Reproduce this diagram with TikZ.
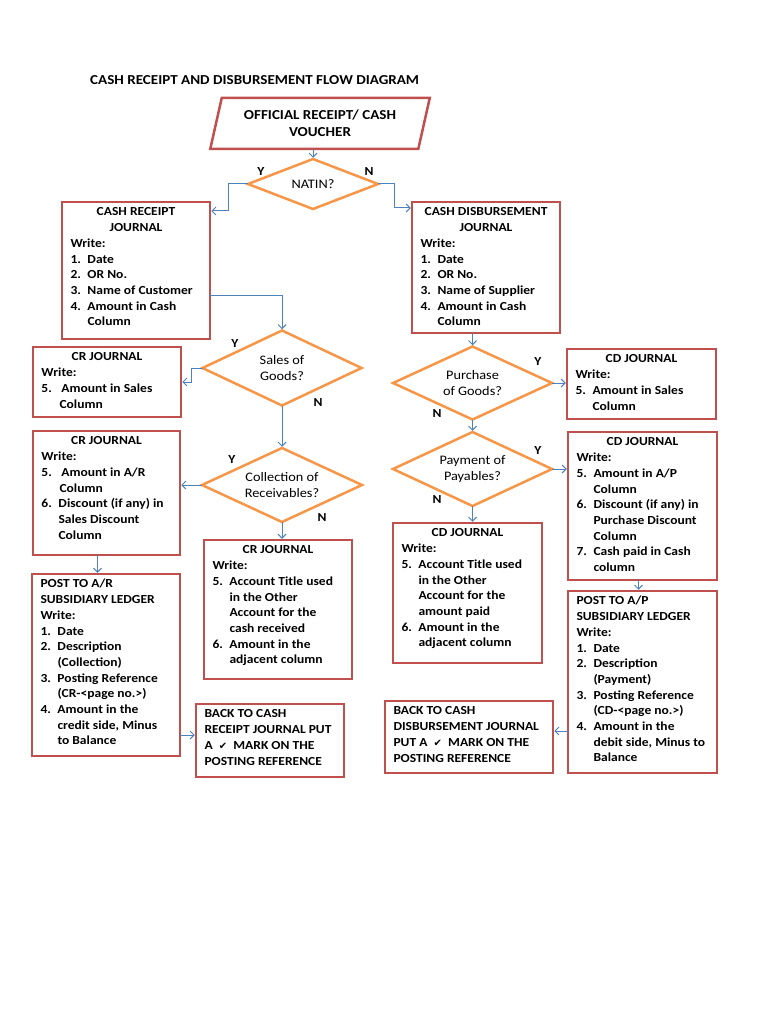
\documentclass[tikz,border=0pt]{standalone}
\usepackage{fontspec}
\setmainfont{Carlito}[FakeStretch=1.1]
\newfontfamily\chkfont{DejaVu Sans}
\usetikzlibrary{shapes.geometric, arrows.meta, positioning}
\definecolor{boxred}{HTML}{C0504D}
\definecolor{decorange}{HTML}{F79646}
\definecolor{lineblue}{HTML}{4F81BD}
\newcommand{\jfont}{\fontsize{12.3}{15.7}\selectfont\bfseries}
\newcommand{\dfont}{\fontsize{13}{16.5}\selectfont}
\newcommand{\tfont}{\fontsize{13.7}{17}\selectfont\bfseries}
\newcommand{\itm}[3][17pt]{\makebox[#1][l]{#2}#3}
\newcommand{\cnt}[1][17pt]{\hspace*{#1}}
\newcommand{\hd}[1]{\makebox[\linewidth][c]{#1}}
\newcommand{\chk}{\enspace{\chkfont\fontsize{10}{10}\selectfont ✔}\enspace}
\newcommand{\jtext}[3]{\parbox[t][#2][t]{#1}{\raggedright\strut#3}}
\tikzstyle{io} = [
  trapezium,
  trapezium left angle=72.6,
  trapezium right angle=107.4,
  trapezium stretches=true,
  minimum width=220pt,
  minimum height=51pt,
  inner sep=1pt,
  outer sep=0pt,
  align=center,
  draw=boxred,
  line width=2.5pt,
  fill=white,
  font=\tfont
]
\tikzstyle{journal} = [
  rectangle,
  anchor=north west,
  inner xsep=8.5pt,
  inner ysep=3pt,
  outer sep=0pt,
  draw=boxred,
  line width=2.5pt,
  fill=white,
  font=\jfont
]
\tikzstyle{decision} = [
  diamond,
  aspect=2,
  inner sep=0pt,
  outer sep=0pt,
  align=center,
  draw=decorange,
  line width=2.5pt,
  fill=white,
  font=\dfont
]
\tikzstyle{yn} = [inner sep=0pt, font=\jfont]
\tikzstyle{arrow} = [draw=lineblue, line width=1pt, shorten >=1.25pt, -{Straight Barb[length=4pt,width=8pt]}]

\begin{document}
\begin{tikzpicture}[x=1pt, y=-1pt]
    \fill [white] (0,0) rectangle (768,1024);
    \useasboundingbox (0,0) rectangle (768,1024);

    \node (title) [anchor=west, inner sep=0pt, font=\tfont] at (90,80) {CASH RECEIPT AND DISBURSEMENT FLOW DIAGRAM};
    \node (voucher) [io] at (320,123.5) {OFFICIAL RECEIPT/ CASH\\VOUCHER};
    \node (natin) [decision, minimum width=130pt, minimum height=50pt] at (313,184) {NATIN?};

    % cash receipt side
    \node (crj) [journal] at (62,202) {\jtext{131pt}{131pt}{\hd{CASH RECEIPT}\\ \hd{JOURNAL}\\ Write:\\ \itm{1.}{Date}\\ \itm{2.}{OR No.}\\ \itm{3.}{Name of Customer}\\ \itm{4.}{Amount in Cash}\\ \cnt Column}};
    \node (sales) [decision, minimum width=159pt, minimum height=75pt] at (282,368) {Sales of\\Goods?};
    \node (crja) [journal] at (33,347) {\jtext{131pt}{64pt}{\hd{CR JOURNAL}\\ Write:\\ \itm[20pt]{5.}{Amount in Sales}\\ \cnt[18pt]Column}};
    \node (coll) [decision, minimum width=160pt, minimum height=74pt] at (282,485) {Collection of\\Receivables?};
    \node (crjb) [journal] at (33,431) {\jtext{130pt}{118pt}{\hd{CR JOURNAL}\\ Write:\\ \itm[20pt]{5.}{Amount in A/R}\\ \cnt[18pt]Column\\ \itm{6.}{Discount (if any) in}\\ \cnt Sales Discount\\ \cnt Column}};
    \node (crjc) [journal] at (204,540) {\jtext{131pt}{133pt}{\hd{CR JOURNAL}\\ Write:\\ \itm{5.}{Account Title used}\\ \cnt in the Other\\ \cnt Account for the\\ \cnt cash received\\ \itm{6.}{Amount in the}\\ \cnt adjacent column}};
    \node (postar) [journal] at (32,574) {\jtext{131pt}{176pt}{POST TO A/R\\ SUBSIDIARY LEDGER\\ Write:\\ \itm{1.}{Date}\\ \itm{2.}{Description}\\ \cnt (Collection)\\ \itm{3.}{Posting Reference}\\ \cnt (CR-<page no.>)\\ \itm{4.}{Amount in the}\\ \cnt credit side, Minus\\ \cnt to Balance}};
    \node (backcr) [journal] at (196,704) {\jtext{131pt}{67pt}{BACK TO CASH\\ RECEIPT JOURNAL PUT\\ A\chk MARK ON THE\\ POSTING REFERENCE}};

    % cash disbursement side
    \node (cdj) [journal] at (412,202) {\jtext{131pt}{125pt}{\hd{CASH DISBURSEMENT}\\ \hd{JOURNAL}\\ Write:\\ \itm{1.}{Date}\\ \itm{2.}{OR No.}\\ \itm{3.}{Name of Supplier}\\ \itm{4.}{Amount in Cash}\\ \cnt Column}};
    \node (purch) [decision, minimum width=159pt, minimum height=73pt] at (472.5,383) {Purchase\\of Goods?};
    \node (cdja) [journal] at (567,349) {\jtext{132pt}{64pt}{\hd{CD JOURNAL}\\ Write:\\ \itm{5.}{Amount in Sales}\\ \cnt Column}};
    \node (pay) [decision, minimum width=159pt, minimum height=74pt] at (472.5,469) {Payment of\\Payables?};
    \node (cdjb) [journal] at (568,432) {\jtext{132pt}{142pt}{\hd{CD JOURNAL}\\ Write:\\ \itm{5.}{Amount in A/P}\\ \cnt Column\\ \itm{6.}{Discount (if any) in}\\ \cnt Purchase Discount\\ \cnt Column\\ \itm{7.}{Cash paid in Cash}\\ \cnt column}};
    \node (cdjc) [journal] at (393,523) {\jtext{132pt}{134pt}{\hd{CD JOURNAL}\\ Write:\\ \itm{5.}{Account Title used}\\ \cnt in the Other\\ \cnt Account for the\\ \cnt amount paid\\ \itm{6.}{Amount in the}\\ \cnt adjacent column}};
    \node (postap) [journal] at (568,591) {\jtext{132pt}{176pt}{POST TO A/P\\ SUBSIDIARY LEDGER\\ Write:\\ \itm{1.}{Date}\\ \itm{2.}{Description}\\ \cnt (Payment)\\ \itm{3.}{Posting Reference}\\ \cnt (CD-<page no.>)\\ \itm{4.}{Amount in the}\\ \cnt debit side, Minus to\\ \cnt Balance}};
    \node (backcd) [journal] at (385,701) {\jtext{151pt}{66pt}{BACK TO CASH\\ DISBURSEMENT JOURNAL\\ PUT A\chk MARK ON THE\\ POSTING REFERENCE}};

    % Y / N marks
    \node (natin-y) [yn] at (261,172) {Y};
    \node (natin-n) [yn] at (369,172) {N};
    \node (sales-y) [yn] at (235,344) {Y};
    \node (sales-n) [yn] at (318,403) {N};
    \node (coll-y) [yn] at (232,460) {Y};
    \node (coll-n) [yn] at (322,518) {N};
    \node (purch-y) [yn] at (538,362) {Y};
    \node (purch-n) [yn] at (437,414) {N};
    \node (pay-y) [yn] at (538,451) {Y};
    \node (pay-n) [yn] at (437,500) {N};

    \draw [arrow] (voucher.south -| natin.north) -- (natin.north);
    \draw [arrow] (natin.west) -- ++(-20,0) |- ([yshift=-9pt]crj.north east);
    \draw [arrow] (natin.east) -- ++(16,0) |- ([yshift=-6pt]cdj.north west);
    \draw [arrow] ([yshift=-25pt]crj.east) -| (sales.north);
    \draw [arrow] (sales.west) -- ++(-11,0) |- (crja.east);
    \draw [arrow] (sales.south) -- (coll.north);
    \draw [arrow] (coll.west) -- (coll.west -| crjb.east);
    \draw [arrow] (coll.south) -- (coll.south |- crjc.north);
    \draw [arrow] ([xshift=-9pt]crjb.south) -- ([xshift=-9pt]crjb.south |- postar.north);
    \draw [arrow] ([yshift=-70pt]postar.east) -- ([yshift=-70pt]postar.east -| backcr.west);
    \draw [arrow] (cdj.south -| purch.north) -- (purch.north);
    \draw [arrow] (purch.east) -- (purch.east -| cdja.west);
    \draw [arrow] (purch.south) -- (pay.north);
    \draw [arrow] (pay.east) -- (pay.east -| cdjb.west);
    \draw [arrow] (pay.south) -- (pay.south |- cdjc.north);
    \draw [arrow] ([xshift=-4pt]cdjb.south) -- ([xshift=-4pt]cdjb.south |- postap.north);
    \draw [arrow] ([yshift=-49pt]postap.west) -- ([yshift=-49pt]postap.west -| backcd.east);
  \end{tikzpicture}
\end{document}
